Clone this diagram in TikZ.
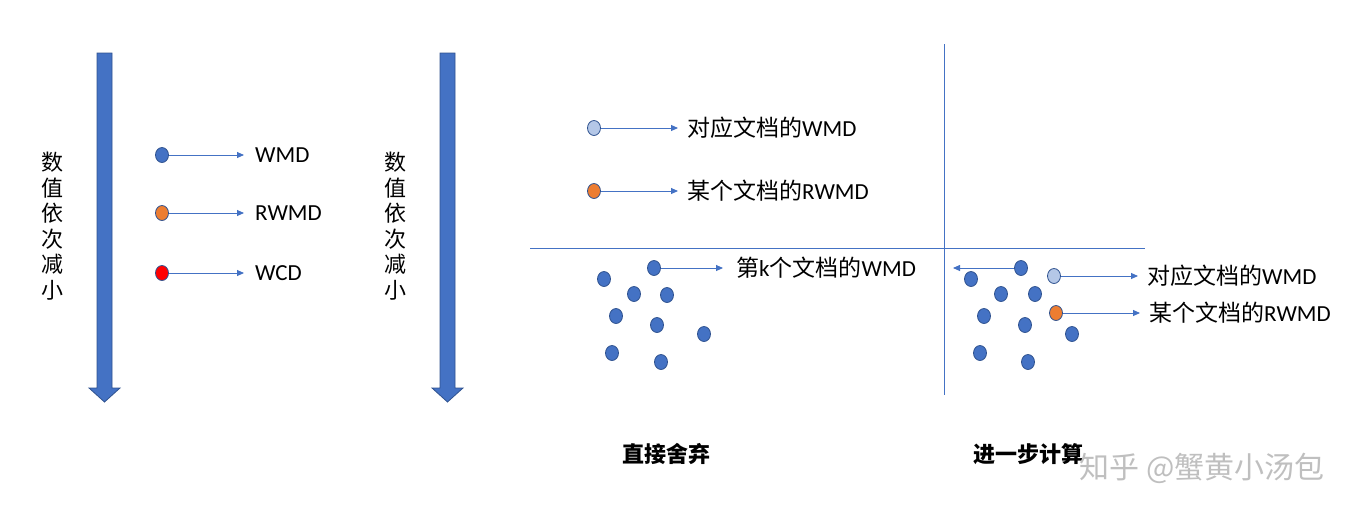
\documentclass[tikz,border=0pt]{standalone}
\usepackage{fontspec}
\setmainfont{Carlito}
\newfontfamily\cjk{Noto Sans CJK SC}
\usetikzlibrary{arrows.meta,shapes.geometric}
\definecolor{bl}{HTML}{4472C4}
\definecolor{bd}{HTML}{2F528F}
\definecolor{org}{HTML}{ED7D31}
\definecolor{lb}{HTML}{B4C7E7}
\tikzset{
 dot/.style={ellipse,draw=bd,line width=0.8pt,fill=bl,minimum width=13pt,minimum height=15pt,inner sep=0pt},
 odot/.style={dot,fill=org},
 ldot/.style={dot,fill=lb},
 rdot/.style={dot,fill=red},
 conn/.style={draw=bl,line width=0.9pt,-{Triangle[length=7pt,width=6pt]}},
 lbl/.style={anchor=west,font=\fontsize{23}{26}\selectfont,inner sep=0pt},
 vtxt/.style={font=\cjk\fontsize{22}{25.5}\selectfont,align=center,inner sep=0pt},
 bigarrow/.style={fill=bl,draw=bd,line width=0.8pt}
}
\begin{document}
\begin{tikzpicture}[x=1pt,y=-1pt]
\useasboundingbox (0,0) rectangle (1362,531);
% big arrows
\draw[bigarrow] (97,53) -- (112,53) -- (112,388) -- (120,388) -- (104.5,402) -- (89,388) -- (97,388) -- cycle;
\draw[bigarrow] (440,53) -- (455,53) -- (455,388) -- (463,388) -- (447.5,402) -- (432,388) -- (440,388) -- cycle;
\node[vtxt] (v1) at (52,226) {数\\值\\依\\次\\减\\小};
\node[vtxt] (v2) at (395,226) {数\\值\\依\\次\\减\\小};
% legend
\node[dot] (a1) at (162,155) {};
\node[odot] (a2) at (162,213) {};
\node[rdot] (a3) at (162,273) {};
\coordinate (e1) at (244,155); \coordinate (e2) at (244,213); \coordinate (e3) at (244,273);
\draw[conn] (a1) -- (e1); \draw[conn] (a2) -- (e2); \draw[conn] (a3) -- (e3);
\node[lbl] (t1) at (255,155) {WMD};
\node[lbl] (t2) at (255,213) {RWMD};
\node[lbl] (t3) at (255,273) {WCD};
% axes
\draw[draw=bl,line width=0.8pt] (944,44) -- (944,395);
\draw[draw=bl,line width=0.8pt] (530,248) -- (1145,248);
% top legend
\node[ldot] (b1) at (594,128) {};
\node[odot] (b2) at (594,191) {};
\coordinate (f1) at (678,128); \coordinate (f2) at (678,191);
\draw[conn] (b1) -- (f1); \draw[conn] (b2) -- (f2);
\node[lbl] (u1) at (687,128) {{\cjk 对应文档的}WMD};
\node[lbl] (u2) at (687,191) {{\cjk 某个文档的}RWMD};
% left cluster
\foreach \x/\y [count=\i] in {604/279,634/294,667/295,616/316,657/325,704/334,612/353,661/362}
  \node[dot] (l\i) at (\x,\y) {};
\node[dot] (lk) at (654,268) {};
\coordinate (g1) at (723,268);
\draw[conn] (lk) -- (g1);
\node[lbl] (uk) at (736,268) {{\cjk 第}k{\cjk 个文档的}WMD};
% right cluster
\foreach \x/\y [count=\i] in {971/279,1001/294,1035/294,984/316,1025/325,1072/334,980/353,1028/362}
  \node[dot] (r\i) at (\x,\y) {};
\node[dot] (rk) at (1021,268) {};
\coordinate (g2) at (953,268);
\draw[conn] (rk) -- (g2);
\node[ldot] (c1) at (1054,276) {};
\node[odot] (c2) at (1056,313) {};
\coordinate (h1) at (1138,276); \coordinate (h2) at (1140,313);
\draw[conn] (c1) -- (h1); \draw[conn] (c2) -- (h2);
\node[lbl] (w1) at (1147,276) {{\cjk 对应文档的}WMD};
\node[lbl] (w2) at (1149,313) {{\cjk 某个文档的}RWMD};
% captions
\node[font=\cjk\bfseries\fontsize{22}{26}\selectfont] (k1) at (666,454) {直接舍弃};
\node[font=\cjk\bfseries\fontsize{22}{26}\selectfont] (k2) at (1028,454) {进一步计算};
\node[font=\cjk\fontsize{30}{34}\selectfont,text=black!25,anchor=east] (wm) at (1328,468) {知乎 @蟹黄小汤包};
\end{tikzpicture}
\end{document}
